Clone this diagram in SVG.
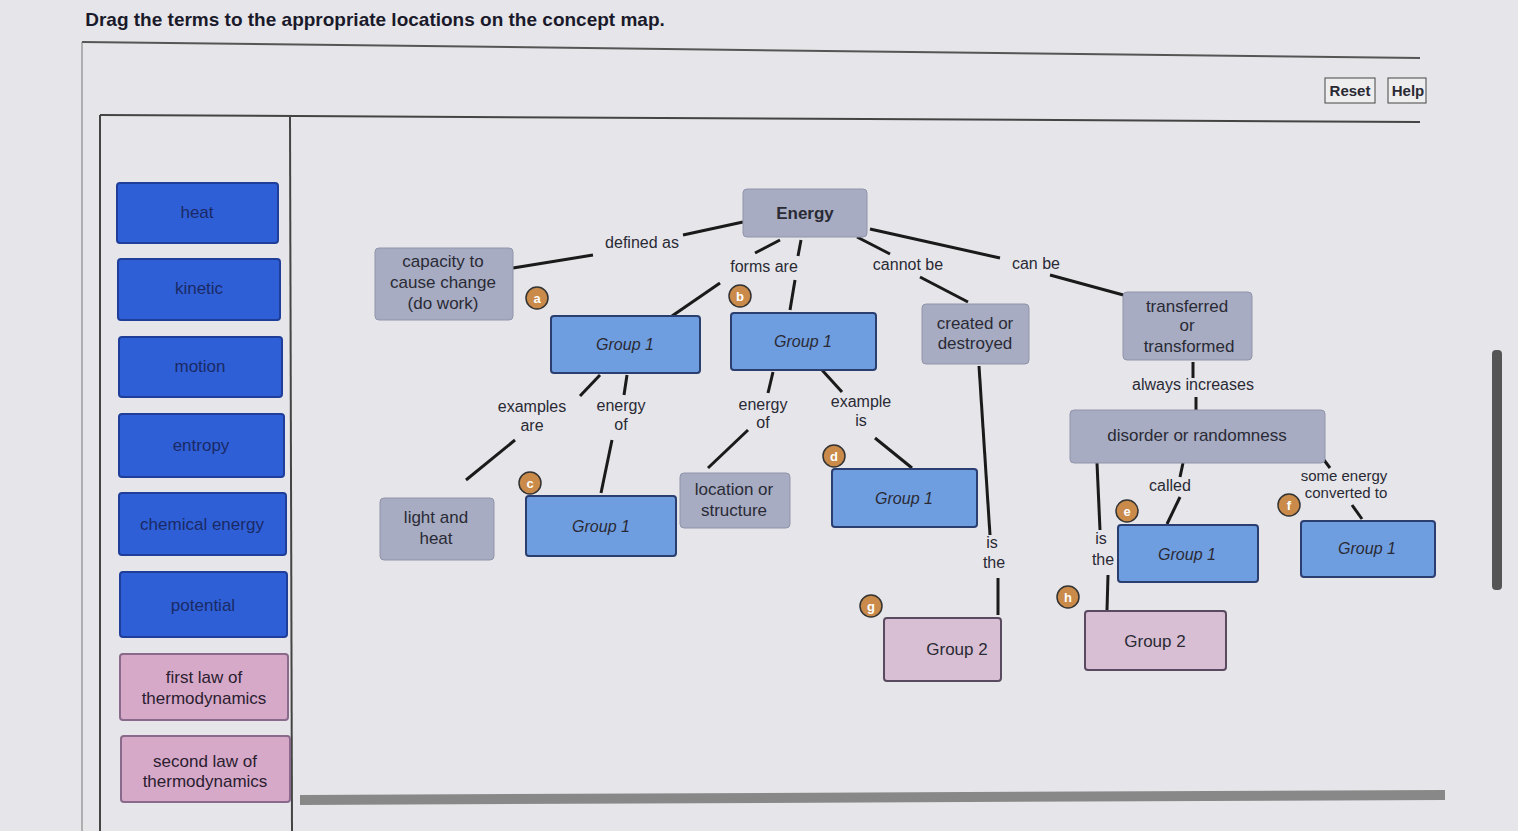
<svg xmlns="http://www.w3.org/2000/svg" width="1518" height="831" viewBox="0 0 1518 831">
<style>
text{font-family:"Liberation Sans",Arial,sans-serif;font-size:17px;fill:#2a2a35;text-anchor:middle}
.term rect{fill:#2f5fd6;stroke:#1e3e9a;stroke-width:2}
.term text{fill:#1a2a66}
.pterm rect{fill:#d7a9c9;stroke:#8a6a8a;stroke-width:2}
.pterm text{fill:#2a2030}
.g rect{fill:#a7acc2;stroke:#9094aa;stroke-width:1}
.b rect{fill:#6f9ee0;stroke:#2a3e70;stroke-width:2}
.b text{font-style:italic;font-size:16px}
.p rect{fill:#d8bfd3;stroke:#5a4a60;stroke-width:2}
.lab{font-size:16px}
.c circle{fill:#c98a4a;stroke:#333;stroke-width:1.5}
.c text{font-size:13px;fill:#fff;font-weight:bold}
#connectors line{stroke:#1a1a1a;stroke-width:3}
</style>
<rect width="1518" height="831" fill="#e6e6ea"/>
<rect x="1492" y="350" width="10" height="240" fill="#555" rx="4"/>
<text x="375" y="26" style="font-size:19px;font-weight:bold;fill:#1a1a2a">Drag the terms to the appropriate locations on the concept map.</text>
<line x1="82" y1="42" x2="1420" y2="58" stroke="#555" stroke-width="2"/>
<line x1="82" y1="42" x2="82" y2="831" stroke="#777" stroke-width="1"/>
<line x1="100" y1="115" x2="1420" y2="122" stroke="#444" stroke-width="2"/>
<line x1="100" y1="115" x2="100" y2="831" stroke="#444" stroke-width="2"/>
<line x1="290" y1="117" x2="292" y2="831" stroke="#444" stroke-width="2"/>
<line x1="300" y1="800" x2="1445" y2="795" stroke="#888" stroke-width="10"/>
<g id="btn-reset"><rect x="1325" y="78" width="50" height="25" fill="#eee" stroke="#444"/><text x="1350" y="96" style="font-size:15px;font-weight:bold">Reset</text></g>
<g id="btn-help"><rect x="1388" y="78" width="38" height="25" fill="#eee" stroke="#444"/><text x="1408" y="96" style="font-size:15px;font-weight:bold">Help</text></g>

<g id="t-heat" class="term"><rect x="117" y="183" width="161" height="60" rx="3"/><text x="197" y="218">heat</text></g>
<g id="t-kinetic" class="term"><rect x="118" y="259" width="162" height="61" rx="3"/><text x="199" y="294">kinetic</text></g>
<g id="t-motion" class="term"><rect x="119" y="337" width="163" height="60" rx="3"/><text x="200" y="372">motion</text></g>
<g id="t-entropy" class="term"><rect x="119" y="414" width="165" height="63" rx="3"/><text x="201" y="451">entropy</text></g>
<g id="t-chem" class="term"><rect x="119" y="493" width="167" height="62" rx="3"/><text x="202" y="530">chemical energy</text></g>
<g id="t-pot" class="term"><rect x="120" y="572" width="167" height="65" rx="3"/><text x="203" y="611">potential</text></g>
<g id="t-first" class="pterm"><rect x="120" y="654" width="168" height="66" rx="3"/><text x="204" y="683">first law of</text><text x="204" y="704">thermodynamics</text></g>
<g id="t-second" class="pterm"><rect x="121" y="736" width="169" height="66" rx="3"/><text x="205" y="767">second law of</text><text x="205" y="787">thermodynamics</text></g>

<g id="connectors">
<line x1="743" y1="222" x2="683" y2="235"/><line x1="593" y1="255" x2="513" y2="268"/>
<line x1="780" y1="240" x2="755" y2="253"/><line x1="801" y1="240" x2="798" y2="256"/>
<line x1="720" y1="283" x2="672" y2="316"/><line x1="795" y1="280" x2="790" y2="310"/>
<line x1="857" y1="237" x2="890" y2="254"/><line x1="920" y1="277" x2="968" y2="302"/>
<line x1="870" y1="229" x2="1000" y2="258"/><line x1="1050" y1="275" x2="1127" y2="296"/>
<line x1="600" y1="375" x2="580" y2="396"/><line x1="627" y1="375" x2="624" y2="395"/>
<line x1="515" y1="440" x2="466" y2="480"/><line x1="612" y1="440" x2="601" y2="493"/>
<line x1="773" y1="372" x2="768" y2="393"/><line x1="822" y1="370" x2="842" y2="392"/>
<line x1="748" y1="430" x2="708" y2="468"/><line x1="875" y1="438" x2="912" y2="468"/>
<line x1="979" y1="366" x2="990" y2="535"/><line x1="998" y1="578" x2="998" y2="615"/>
<line x1="1193" y1="362" x2="1193" y2="378"/><line x1="1196" y1="397" x2="1196" y2="410"/>
<line x1="1183" y1="463" x2="1180" y2="477"/><line x1="1180" y1="497" x2="1167" y2="524"/>
<line x1="1097" y1="463" x2="1100" y2="530"/><line x1="1108" y1="575" x2="1107" y2="610"/>
<line x1="1324" y1="460" x2="1330" y2="468"/><line x1="1352" y1="505" x2="1362" y2="519"/>
</g>

<g id="n-energy" class="g"><rect x="743" y="189" width="124" height="48" rx="4"/><text x="805" y="219" style="font-weight:bold">Energy</text></g>
<g id="n-capacity" class="g"><rect x="375" y="248" width="138" height="72" rx="4"/><text x="443" y="267">capacity to</text><text x="443" y="288">cause change</text><text x="443" y="309">(do work)</text></g>
<g id="n-light" class="g"><rect x="380" y="498" width="114" height="62" rx="4"/><text x="436" y="523">light and</text><text x="436" y="544">heat</text></g>
<g id="n-location" class="g"><rect x="680" y="473" width="110" height="55" rx="4"/><text x="734" y="495">location or</text><text x="734" y="516">structure</text></g>
<g id="n-created" class="g"><rect x="922" y="304" width="107" height="60" rx="4"/><text x="975" y="329">created or</text><text x="975" y="349">destroyed</text></g>
<g id="n-transferred" class="g"><rect x="1123" y="292" width="129" height="68" rx="4"/><text x="1187" y="312">transferred</text><text x="1187" y="331">or</text><text x="1189" y="352">transformed</text></g>
<g id="n-disorder" class="g"><rect x="1070" y="410" width="255" height="53" rx="4"/><text x="1197" y="441">disorder or randomness</text></g>

<g id="s-1a" class="b"><rect x="551" y="316" width="149" height="57" rx="3"/><text x="625" y="350">Group 1</text></g>
<g id="s-1b" class="b"><rect x="731" y="313" width="145" height="57" rx="3"/><text x="803" y="347">Group 1</text></g>
<g id="s-1c" class="b"><rect x="526" y="496" width="150" height="60" rx="3"/><text x="601" y="532">Group 1</text></g>
<g id="s-1d" class="b"><rect x="832" y="469" width="145" height="58" rx="3"/><text x="904" y="504">Group 1</text></g>
<g id="s-1e" class="b"><rect x="1118" y="525" width="140" height="57" rx="3"/><text x="1187" y="560">Group 1</text></g>
<g id="s-1f" class="b"><rect x="1301" y="521" width="134" height="56" rx="3"/><text x="1367" y="554">Group 1</text></g>
<g id="s-2g" class="p"><rect x="884" y="618" width="117" height="63" rx="3"/><text x="957" y="655">Group 2</text></g>
<g id="s-2h" class="p"><rect x="1085" y="611" width="141" height="59" rx="3"/><text x="1155" y="647">Group 2</text></g>

<g id="labels">
<text class="lab" x="642" y="248">defined as</text>
<text class="lab" x="764" y="272">forms are</text>
<text class="lab" x="908" y="270">cannot be</text>
<text class="lab" x="1036" y="269">can be</text>
<text class="lab" x="532" y="412">examples</text><text class="lab" x="532" y="431">are</text>
<text class="lab" x="621" y="411">energy</text><text class="lab" x="621" y="430">of</text>
<text class="lab" x="763" y="410">energy</text><text class="lab" x="763" y="428">of</text>
<text class="lab" x="861" y="407">example</text><text class="lab" x="861" y="426">is</text>
<text class="lab" x="1193" y="390">always increases</text>
<text class="lab" x="1170" y="491">called</text>
<text class="lab" x="1344" y="481" style="font-size:15px">some energy</text><text class="lab" x="1346" y="498" style="font-size:15px">converted to</text>
<text class="lab" x="992" y="548">is</text><text class="lab" x="994" y="568">the</text>
<text class="lab" x="1101" y="544">is</text><text class="lab" x="1103" y="565">the</text>
</g>

<g id="markers" class="c">
<circle cx="537" cy="298" r="11"/><text x="537" y="303">a</text>
<circle cx="740" cy="296" r="11"/><text x="740" y="301">b</text>
<circle cx="530" cy="483" r="11"/><text x="530" y="488">c</text>
<circle cx="834" cy="456" r="11"/><text x="834" y="461">d</text>
<circle cx="1127" cy="511" r="11"/><text x="1127" y="516">e</text>
<circle cx="1289" cy="505" r="11"/><text x="1289" y="510">f</text>
<circle cx="871" cy="606" r="11"/><text x="871" y="611">g</text>
<circle cx="1068" cy="597" r="11"/><text x="1068" y="602">h</text>
</g>
</svg>
